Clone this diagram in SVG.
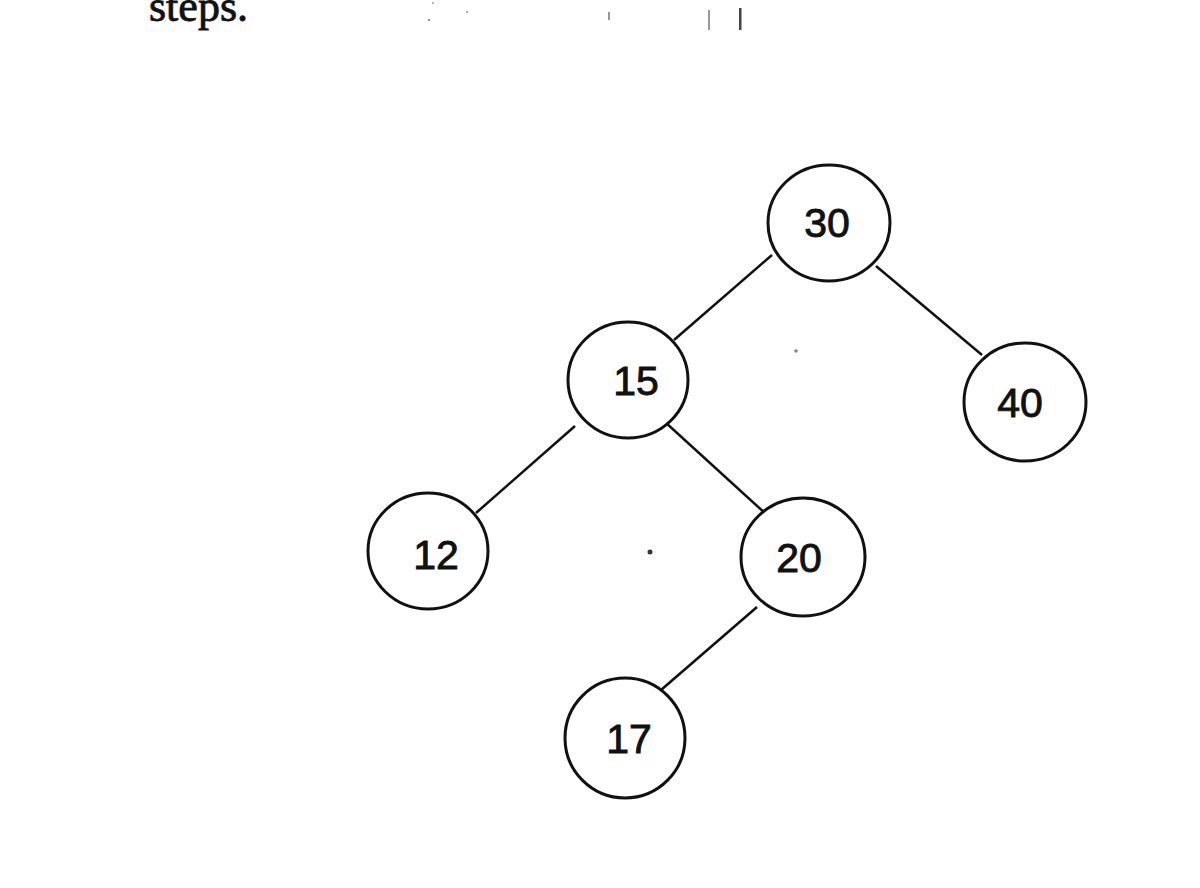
<svg xmlns="http://www.w3.org/2000/svg" width="1200" height="888" viewBox="0 0 1200 888">
<style>
.node ellipse{fill:#fff;stroke:#111;stroke-width:3}
.node text{font-family:"Liberation Sans","Open Sans",sans-serif;font-size:41px;fill:#111;stroke:#111;stroke-width:0.9;text-anchor:middle}
#edges line{stroke:#111;stroke-width:2.5}
.cap{font-family:"Liberation Serif","DejaVu Serif",serif;font-size:44px;fill:#111;stroke:#111;stroke-width:0.8}
</style>
<rect width="1200" height="888" fill="#fff"/>
<text class="cap" x="149" y="21">steps.</text>
<g id="noise" fill="#999">
<circle cx="429" cy="20" r="1.3"/><circle cx="433" cy="3" r="1"/><circle cx="467" cy="12" r="1"/>
<rect x="608" y="12" width="2" height="8"/><rect x="708" y="10" width="2" height="20"/><rect x="739" y="8" width="2.5" height="22" fill="#444"/>
<circle cx="650" cy="552" r="2.5" fill="#333"/><circle cx="796" cy="351" r="1.8" fill="#888"/>
</g>
<g id="edges">
<line x1="772" y1="255" x2="674" y2="340"/>
<line x1="876" y1="266" x2="982" y2="355"/>
<line x1="575" y1="426" x2="476" y2="513"/>
<line x1="665" y1="422" x2="767" y2="515"/>
<line x1="757" y1="607" x2="661" y2="690"/>
</g>
<g id="n30" class="node"><ellipse cx="829" cy="223" rx="61" ry="58"/><text x="827" y="237">30</text></g>
<g id="n15" class="node"><ellipse cx="628" cy="380" rx="60" ry="58"/><text x="636" y="395">15</text></g>
<g id="n40" class="node"><ellipse cx="1025" cy="402" rx="61" ry="59"/><text x="1020" y="417">40</text></g>
<g id="n12" class="node"><ellipse cx="428" cy="551" rx="60" ry="58"/><text x="436" y="569">12</text></g>
<g id="n20" class="node"><ellipse cx="803" cy="557" rx="62" ry="59"/><text x="799" y="572">20</text></g>
<g id="n17" class="node"><ellipse cx="625" cy="738" rx="60" ry="60"/><text x="629" y="753">17</text></g>
</svg>
